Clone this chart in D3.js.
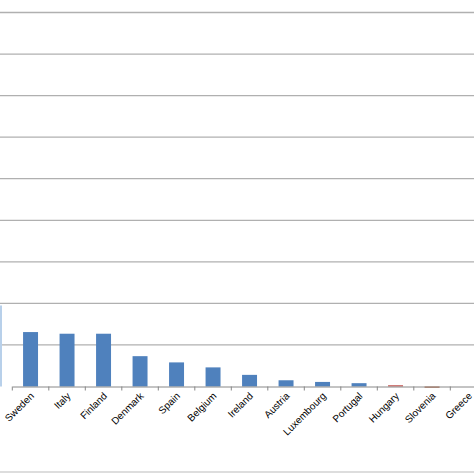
<!DOCTYPE html><html><head><script src="https://cdn.jsdelivr.net/npm/d3@7"></script>
<style>body{margin:0;background:#fff}</style></head><body><svg id="c" width="474" height="474"></svg>
<script>
const countries=["Sweden","Italy","Finland","Denmark","Spain","Belgium","Ireland","Austria","Luxembourg","Portugal","Hungary","Slovenia","Greece"];
const values=[1.31,1.27,1.27,0.73,0.58,0.46,0.28,0.15,0.11,0.08,0.03,-0.03,0.0];
const colors=["#4f81bd","#4f81bd","#4f81bd","#4f81bd","#4f81bd","#4f81bd","#4f81bd","#4f81bd","#4f81bd","#4f81bd","#c0504d","#b5603f","#4f81bd"];
const gridVals=[0,1,2,3,4,5,6,7,8,9];
const svg=d3.select("#c");
const x=d3.scaleBand().domain(countries).range([12.3,12.3+13*36.5]).paddingInner(0.59).paddingOuter(0.295);
const y=d3.scaleLinear().domain([0,9]).range([386.5,12.5]);
svg.append("g").selectAll("line").data(gridVals.slice(1)).join("line")
 .attr("x1",0).attr("x2",474).attr("y1",d=>y(d)).attr("y2",d=>y(d)).attr("stroke","#b0b0b0").attr("stroke-width",1.3);
svg.append("line").attr("x1",1).attr("x2",1).attr("y1",y(1.95)).attr("y2",y(0)).attr("stroke","#b8d0ea").attr("stroke-width",2);
svg.append("g").selectAll("rect").data(countries).join("rect")
 .attr("x",d=>x(d)).attr("width",x.bandwidth())
 .attr("y",(d,i)=>y(Math.max(0,values[i]))).attr("height",(d,i)=>Math.abs(y(values[i])-y(0)))
 .attr("fill",(d,i)=>colors[i]);
const ax=svg.append("g").attr("transform",`translate(0,${y(0)})`).call(d3.axisBottom(x).tickSizeOuter(0).tickSizeInner(0));
ax.select(".domain").attr("stroke","#888");
ax.selectAll(".tick text").attr("font-family","Liberation Sans, Arial").attr("font-size",10).attr("fill","#000")
 .attr("text-anchor","end").attr("dy",0).attr("dx",0).attr("transform","translate(2,8) rotate(-45)");
ax.selectAll(".edge").data(d3.range(14)).join("line").attr("class","edge")
 .attr("x1",d=>12.3+d*36.5).attr("x2",d=>12.3+d*36.5).attr("y1",0).attr("y2",4).attr("stroke","#888");
svg.append("line").attr("x1",0).attr("x2",474).attr("y1",472).attr("y2",472).attr("stroke","#ddd").attr("stroke-width",2);
</script></body></html>
